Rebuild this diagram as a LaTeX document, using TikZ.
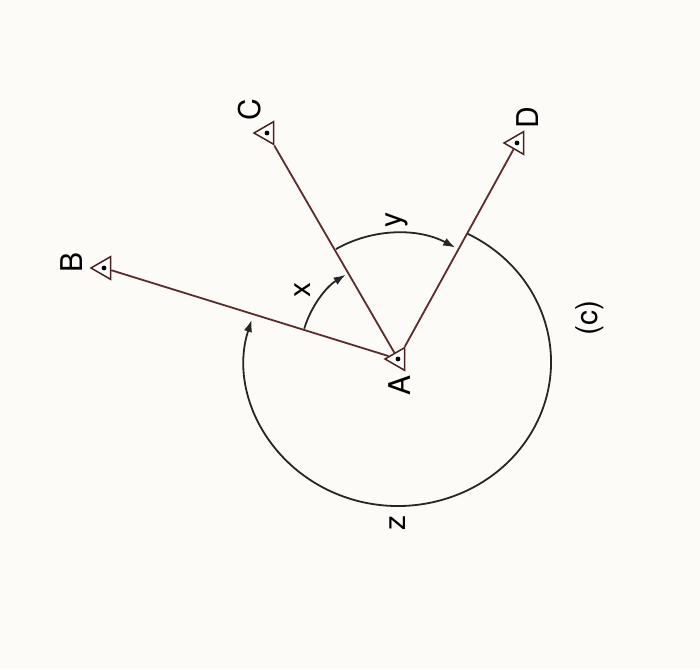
\documentclass[tikz,border=0pt]{standalone}
\usepackage{fontspec}
\setmainfont{TeX Gyre Heros}
\usetikzlibrary{shapes.geometric,arrows.meta}
\definecolor{leg}{HTML}{5E2B2B}
\definecolor{bg}{HTML}{FCFBF7}
\begin{document}
\begin{tikzpicture}[x=0.5pt,y=0.5pt,
  station/.style={regular polygon,regular polygon sides=3,shape border rotate=90,
    draw=leg!80!black,line width=0.75pt,minimum size=13pt,inner sep=0pt,fill=white},
  legline/.style={draw=leg,line width=0.9pt},
  anglearc/.style={draw=black!85,line width=0.9pt,-{Latex[length=6pt,width=4.2pt]}},
  lab/.style={font=\fontsize{15}{17}\selectfont,rotate=90,inner sep=0pt}]
\fill[bg] (0,0) rectangle (700,669);
\useasboundingbox (0,0) rectangle (700,669);
% stations
\node[station] (A) at (398,310) {};
\node[station] (B) at (104,401) {};
\node[station] (C) at (267,536) {};
\node[station] (D) at (517,526) {};
\foreach \n in {A,B,C,D} \fill (\n) circle (1.2pt);
% legs
\draw[legline] (A) -- (B);
\draw[legline] (A) -- (C);
\draw[legline] (A) -- (D);
% angle arcs
\coordinate (O) at (398,307);
\coordinate (P) at (397,312);
\draw[anglearc] ([shift={(163:97)}]P) arc[start angle=163,end angle=122,radius=97];
\draw[anglearc] ([shift={(119.5:124)}]P) arc[start angle=119.5,end angle=62,radius=124];
\draw[anglearc] ([shift={(63:153 and 144)}]O) arc[start angle=63,end angle=-197,x radius=153,y radius=144];
% labels
\node[lab] (lA) at (400,284) {A};
\node[lab] (lB) at (72,407) {B};
\node[lab] (lC) at (250,559) {C};
\node[lab] (lD) at (528,551) {D};
\node[lab] (lx) at (303,379) {x};
\node[lab] (ly) at (397,449) {y};
\node[lab] (lz) at (398,146) {z};
\node[lab] (lc) at (590,351) {(c)};
\end{tikzpicture}
\end{document}
